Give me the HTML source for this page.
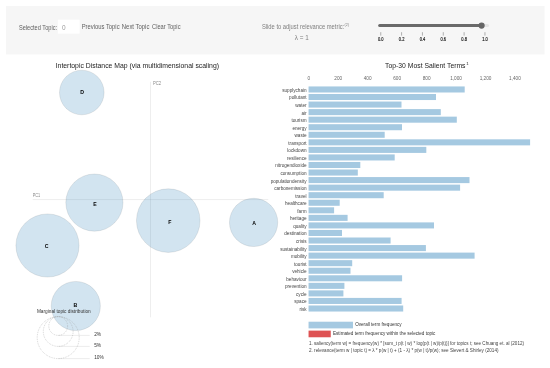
<!DOCTYPE html><html><head><meta charset="utf-8"><title>LDAvis</title><style>html,body{margin:0;padding:0;background:#fff}svg{display:block}text{font-family:"Liberation Sans",sans-serif;filter:blur(0.3px)}</style></head><body>
<svg width="550" height="368" viewBox="0 0 550 368">
<rect x="0" y="0" width="550" height="368" fill="#fff"/>
<rect x="6" y="6" width="538.5" height="48.4" fill="#f6f6f6"/>
<text x="19.00" y="29.50" font-size="6.5" fill="#606060" textLength="38.00" lengthAdjust="spacingAndGlyphs">Selected Topic:</text>
<rect x="57.8" y="19.7" width="21.8" height="13.9" fill="#fff"/>
<text x="62.00" y="29.50" font-size="6.5" fill="#9a9a9a" textLength="3.60" lengthAdjust="spacingAndGlyphs">0</text>
<text x="81.70" y="29.40" font-size="6.5" fill="#606060" textLength="37.90" lengthAdjust="spacingAndGlyphs">Previous Topic</text>
<text x="121.80" y="29.40" font-size="6.5" fill="#606060" textLength="27.60" lengthAdjust="spacingAndGlyphs">Next Topic</text>
<text x="152.00" y="29.40" font-size="6.5" fill="#606060" textLength="28.50" lengthAdjust="spacingAndGlyphs">Clear Topic</text>
<text x="261.90" y="28.50" font-size="6.4" fill="#808080" textLength="82.30" lengthAdjust="spacingAndGlyphs">Slide to adjust relevance metric:</text>
<text x="344.60" y="26.30" font-size="3.6" fill="#808080" textLength="4.50" lengthAdjust="spacingAndGlyphs">(2)</text>
<text x="294.80" y="40.00" font-size="6.4" fill="#808080" textLength="13.90" lengthAdjust="spacingAndGlyphs">λ = 1</text>
<line x1="379.7" y1="25.6" x2="487.5" y2="25.6" stroke="#e4e4e4" stroke-width="3" stroke-linecap="round"/>
<line x1="379.7" y1="25.6" x2="482" y2="25.6" stroke="#6a6a6a" stroke-width="3" stroke-linecap="round"/>
<circle cx="481.6" cy="25.6" r="3.1" fill="#666"/>
<line x1="380.75" y1="32.2" x2="380.75" y2="35.6" stroke="#555" stroke-width="0.45"/>
<text x="377.95" y="41.30" font-size="4.7" fill="#111" textLength="5.60" lengthAdjust="spacingAndGlyphs" stroke="#111" stroke-width="0.15">0.0</text>
<line x1="401.59" y1="32.2" x2="401.59" y2="35.6" stroke="#555" stroke-width="0.45"/>
<text x="398.79" y="41.30" font-size="4.7" fill="#111" textLength="5.60" lengthAdjust="spacingAndGlyphs" stroke="#111" stroke-width="0.15">0.2</text>
<line x1="422.43" y1="32.2" x2="422.43" y2="35.6" stroke="#555" stroke-width="0.45"/>
<text x="419.63" y="41.30" font-size="4.7" fill="#111" textLength="5.60" lengthAdjust="spacingAndGlyphs" stroke="#111" stroke-width="0.15">0.4</text>
<line x1="443.27" y1="32.2" x2="443.27" y2="35.6" stroke="#555" stroke-width="0.45"/>
<text x="440.47" y="41.30" font-size="4.7" fill="#111" textLength="5.60" lengthAdjust="spacingAndGlyphs" stroke="#111" stroke-width="0.15">0.6</text>
<line x1="464.11" y1="32.2" x2="464.11" y2="35.6" stroke="#555" stroke-width="0.45"/>
<text x="461.31" y="41.30" font-size="4.7" fill="#111" textLength="5.60" lengthAdjust="spacingAndGlyphs" stroke="#111" stroke-width="0.15">0.8</text>
<line x1="484.95" y1="32.2" x2="484.95" y2="35.6" stroke="#555" stroke-width="0.45"/>
<text x="482.15" y="41.30" font-size="4.7" fill="#111" textLength="5.60" lengthAdjust="spacingAndGlyphs" stroke="#111" stroke-width="0.15">1.0</text>
<text x="55.70" y="68.10" font-size="7.2" fill="#222" textLength="163.30" lengthAdjust="spacingAndGlyphs">Intertopic Distance Map (via multidimensional scaling)</text>
<line x1="32.75" y1="199.55" x2="268.25" y2="199.55" stroke="#808080" stroke-opacity="0.3" stroke-width="0.45"/>
<line x1="150.5" y1="81.8" x2="150.5" y2="317.3" stroke="#808080" stroke-opacity="0.3" stroke-width="0.45"/>
<text x="32.70" y="197.00" font-size="5.1" fill="#8a8a8a" textLength="7.40" lengthAdjust="spacingAndGlyphs">PC1</text>
<text x="152.90" y="84.70" font-size="5.1" fill="#8a8a8a" textLength="8.20" lengthAdjust="spacingAndGlyphs">PC2</text>
<circle cx="81.8" cy="92.5" r="22.3" fill="#1f77b4" fill-opacity="0.2" stroke="#000" stroke-opacity="0.2" stroke-width="0.4"/>
<circle cx="94.4" cy="202.6" r="28.6" fill="#1f77b4" fill-opacity="0.2" stroke="#000" stroke-opacity="0.2" stroke-width="0.4"/>
<circle cx="168.25" cy="220.6" r="31.8" fill="#1f77b4" fill-opacity="0.2" stroke="#000" stroke-opacity="0.2" stroke-width="0.4"/>
<circle cx="253.6" cy="222.4" r="24.15" fill="#1f77b4" fill-opacity="0.2" stroke="#000" stroke-opacity="0.2" stroke-width="0.4"/>
<circle cx="47.5" cy="245.5" r="31.6" fill="#1f77b4" fill-opacity="0.2" stroke="#000" stroke-opacity="0.2" stroke-width="0.4"/>
<circle cx="75.8" cy="306" r="24.6" fill="#1f77b4" fill-opacity="0.2" stroke="#000" stroke-opacity="0.2" stroke-width="0.4"/>
<text x="82.00" y="94.45" font-size="5.2" fill="#000" text-anchor="middle" font-weight="bold">D</text>
<text x="95.00" y="205.85" font-size="5.2" fill="#000" text-anchor="middle" font-weight="bold">E</text>
<text x="169.90" y="223.65" font-size="5.2" fill="#000" text-anchor="middle" font-weight="bold">F</text>
<text x="254.20" y="224.55" font-size="5.2" fill="#000" text-anchor="middle" font-weight="bold">A</text>
<text x="46.50" y="248.35" font-size="5.2" fill="#000" text-anchor="middle" font-weight="bold">C</text>
<text x="75.30" y="306.95" font-size="5.2" fill="#000" text-anchor="middle" font-weight="bold">B</text>
<circle cx="58.20" cy="326.00" r="9.4" fill="none" stroke="#999" stroke-width="0.42" stroke-dasharray="0.9 0.9"/>
<line x1="58.20" y1="335.40" x2="89.70" y2="335.40" stroke="#808080" stroke-opacity="0.3" stroke-width="0.5"/>
<circle cx="58.20" cy="331.50" r="14.9" fill="none" stroke="#999" stroke-width="0.42" stroke-dasharray="0.9 0.9"/>
<line x1="58.20" y1="346.40" x2="89.70" y2="346.40" stroke="#808080" stroke-opacity="0.3" stroke-width="0.5"/>
<circle cx="58.20" cy="337.60" r="21.0" fill="none" stroke="#999" stroke-width="0.42" stroke-dasharray="0.9 0.9"/>
<line x1="58.20" y1="358.60" x2="89.70" y2="358.60" stroke="#808080" stroke-opacity="0.3" stroke-width="0.5"/>
<text x="94.20" y="336.15" font-size="4.8" fill="#333">2%</text>
<text x="94.20" y="347.15" font-size="4.8" fill="#333">5%</text>
<text x="94.20" y="359.35" font-size="4.8" fill="#333">10%</text>
<text x="36.90" y="312.90" font-size="4.75" fill="#333">Marginal topic distribution</text>
<text x="385.10" y="68.40" font-size="7.2" fill="#222" textLength="80.40" lengthAdjust="spacingAndGlyphs">Top-30 Most Salient Terms</text>
<text x="466.30" y="65.10" font-size="4.4" fill="#222">1</text>
<text x="308.75" y="80.00" font-size="4.7" fill="#666" text-anchor="middle">0</text>
<text x="338.21" y="80.00" font-size="4.7" fill="#666" text-anchor="middle">200</text>
<text x="367.67" y="80.00" font-size="4.7" fill="#666" text-anchor="middle">400</text>
<text x="397.13" y="80.00" font-size="4.7" fill="#666" text-anchor="middle">600</text>
<text x="426.59" y="80.00" font-size="4.7" fill="#666" text-anchor="middle">800</text>
<text x="456.05" y="80.00" font-size="4.7" fill="#666" text-anchor="middle">1,000</text>
<text x="485.51" y="80.00" font-size="4.7" fill="#666" text-anchor="middle">1,200</text>
<text x="514.97" y="80.00" font-size="4.7" fill="#666" text-anchor="middle">1,400</text>
<rect x="308.55" y="86.44" width="156.15" height="6.05" fill="#1f77b4" fill-opacity="0.4"/>
<text x="306.55" y="91.92" font-size="4.62" fill="#444" text-anchor="end">supplychain</text>
<rect x="308.55" y="93.99" width="127.45" height="6.05" fill="#1f77b4" fill-opacity="0.4"/>
<text x="306.55" y="99.47" font-size="4.62" fill="#444" text-anchor="end">pollutant</text>
<rect x="308.55" y="101.54" width="92.95" height="6.05" fill="#1f77b4" fill-opacity="0.4"/>
<text x="306.55" y="107.03" font-size="4.62" fill="#444" text-anchor="end">water</text>
<rect x="308.55" y="109.10" width="132.25" height="6.05" fill="#1f77b4" fill-opacity="0.4"/>
<text x="306.55" y="114.58" font-size="4.62" fill="#444" text-anchor="end">air</text>
<rect x="308.55" y="116.65" width="148.25" height="6.05" fill="#1f77b4" fill-opacity="0.4"/>
<text x="306.55" y="122.13" font-size="4.62" fill="#444" text-anchor="end">tourism</text>
<rect x="308.55" y="124.20" width="93.45" height="6.05" fill="#1f77b4" fill-opacity="0.4"/>
<text x="306.55" y="129.68" font-size="4.62" fill="#444" text-anchor="end">energy</text>
<rect x="308.55" y="131.76" width="76.15" height="6.05" fill="#1f77b4" fill-opacity="0.4"/>
<text x="306.55" y="137.24" font-size="4.62" fill="#444" text-anchor="end">waste</text>
<rect x="308.55" y="139.31" width="221.55" height="6.05" fill="#1f77b4" fill-opacity="0.4"/>
<text x="306.55" y="144.79" font-size="4.62" fill="#444" text-anchor="end">transport</text>
<rect x="308.55" y="146.86" width="117.75" height="6.05" fill="#1f77b4" fill-opacity="0.4"/>
<text x="306.55" y="152.34" font-size="4.62" fill="#444" text-anchor="end">lockdown</text>
<rect x="308.55" y="154.42" width="86.15" height="6.05" fill="#1f77b4" fill-opacity="0.4"/>
<text x="306.55" y="159.90" font-size="4.62" fill="#444" text-anchor="end">resilience</text>
<rect x="308.55" y="161.97" width="51.75" height="6.05" fill="#1f77b4" fill-opacity="0.4"/>
<text x="306.55" y="167.45" font-size="4.62" fill="#444" text-anchor="end">nitrogendioxide</text>
<rect x="308.55" y="169.52" width="49.25" height="6.05" fill="#1f77b4" fill-opacity="0.4"/>
<text x="306.55" y="175.00" font-size="4.62" fill="#444" text-anchor="end">consumption</text>
<rect x="308.55" y="177.07" width="160.95" height="6.05" fill="#1f77b4" fill-opacity="0.4"/>
<text x="306.55" y="182.56" font-size="4.62" fill="#444" text-anchor="end">populationdensity</text>
<rect x="308.55" y="184.63" width="151.55" height="6.05" fill="#1f77b4" fill-opacity="0.4"/>
<text x="306.55" y="190.11" font-size="4.62" fill="#444" text-anchor="end">carbonemission</text>
<rect x="308.55" y="192.18" width="75.15" height="6.05" fill="#1f77b4" fill-opacity="0.4"/>
<text x="306.55" y="197.66" font-size="4.62" fill="#444" text-anchor="end">travel</text>
<rect x="308.55" y="199.73" width="31.15" height="6.05" fill="#1f77b4" fill-opacity="0.4"/>
<text x="306.55" y="205.22" font-size="4.62" fill="#444" text-anchor="end">healthcare</text>
<rect x="308.55" y="207.29" width="25.55" height="6.05" fill="#1f77b4" fill-opacity="0.4"/>
<text x="306.55" y="212.77" font-size="4.62" fill="#444" text-anchor="end">farm</text>
<rect x="308.55" y="214.84" width="39.05" height="6.05" fill="#1f77b4" fill-opacity="0.4"/>
<text x="306.55" y="220.32" font-size="4.62" fill="#444" text-anchor="end">heritage</text>
<rect x="308.55" y="222.39" width="125.45" height="6.05" fill="#1f77b4" fill-opacity="0.4"/>
<text x="306.55" y="227.87" font-size="4.62" fill="#444" text-anchor="end">quality</text>
<rect x="308.55" y="229.95" width="33.45" height="6.05" fill="#1f77b4" fill-opacity="0.4"/>
<text x="306.55" y="235.43" font-size="4.62" fill="#444" text-anchor="end">destination</text>
<rect x="308.55" y="237.50" width="82.05" height="6.05" fill="#1f77b4" fill-opacity="0.4"/>
<text x="306.55" y="242.98" font-size="4.62" fill="#444" text-anchor="end">crisis</text>
<rect x="308.55" y="245.05" width="117.35" height="6.05" fill="#1f77b4" fill-opacity="0.4"/>
<text x="306.55" y="250.53" font-size="4.62" fill="#444" text-anchor="end">sustainability</text>
<rect x="308.55" y="252.61" width="166.05" height="6.05" fill="#1f77b4" fill-opacity="0.4"/>
<text x="306.55" y="258.09" font-size="4.62" fill="#444" text-anchor="end">mobility</text>
<rect x="308.55" y="260.16" width="43.65" height="6.05" fill="#1f77b4" fill-opacity="0.4"/>
<text x="306.55" y="265.64" font-size="4.62" fill="#444" text-anchor="end">tourist</text>
<rect x="308.55" y="267.71" width="41.95" height="6.05" fill="#1f77b4" fill-opacity="0.4"/>
<text x="306.55" y="273.19" font-size="4.62" fill="#444" text-anchor="end">vehicle</text>
<rect x="308.55" y="275.26" width="93.55" height="6.05" fill="#1f77b4" fill-opacity="0.4"/>
<text x="306.55" y="280.75" font-size="4.62" fill="#444" text-anchor="end">behaviour</text>
<rect x="308.55" y="282.82" width="35.85" height="6.05" fill="#1f77b4" fill-opacity="0.4"/>
<text x="306.55" y="288.30" font-size="4.62" fill="#444" text-anchor="end">prevention</text>
<rect x="308.55" y="290.37" width="34.85" height="6.05" fill="#1f77b4" fill-opacity="0.4"/>
<text x="306.55" y="295.85" font-size="4.62" fill="#444" text-anchor="end">cycle</text>
<rect x="308.55" y="297.92" width="93.05" height="6.05" fill="#1f77b4" fill-opacity="0.4"/>
<text x="306.55" y="303.41" font-size="4.62" fill="#444" text-anchor="end">space</text>
<rect x="308.55" y="305.48" width="94.65" height="6.05" fill="#1f77b4" fill-opacity="0.4"/>
<text x="306.55" y="310.96" font-size="4.62" fill="#444" text-anchor="end">risk</text>
<rect x="308.55" y="321.72" width="44.43" height="6.66" fill="#1f77b4" fill-opacity="0.4"/>
<text x="355.20" y="326.15" font-size="4.6" fill="#333">Overall term frequency</text>
<rect x="308.55" y="330.61" width="22.21" height="6.66" fill="#d62728" fill-opacity="0.8"/>
<text x="332.99" y="335.04" font-size="4.6" fill="#333">Estimated term frequency within the selected topic</text>
<text x="309.00" y="345.00" font-size="4.6" fill="#444" textLength="215.00" lengthAdjust="spacingAndGlyphs">1. saliency(term w) = frequency(w) * [sum_t p(t | w) * log(p(t | w)/p(t))] for topics t; see Chuang et. al (2012)</text>
<text x="309.00" y="351.70" font-size="4.6" fill="#444" textLength="189.50" lengthAdjust="spacingAndGlyphs">2. relevance(term w | topic t) = λ * p(w | t) + (1 - λ) * p(w | t)/p(w); see Sievert &amp; Shirley (2014)</text>
</svg></body></html>
